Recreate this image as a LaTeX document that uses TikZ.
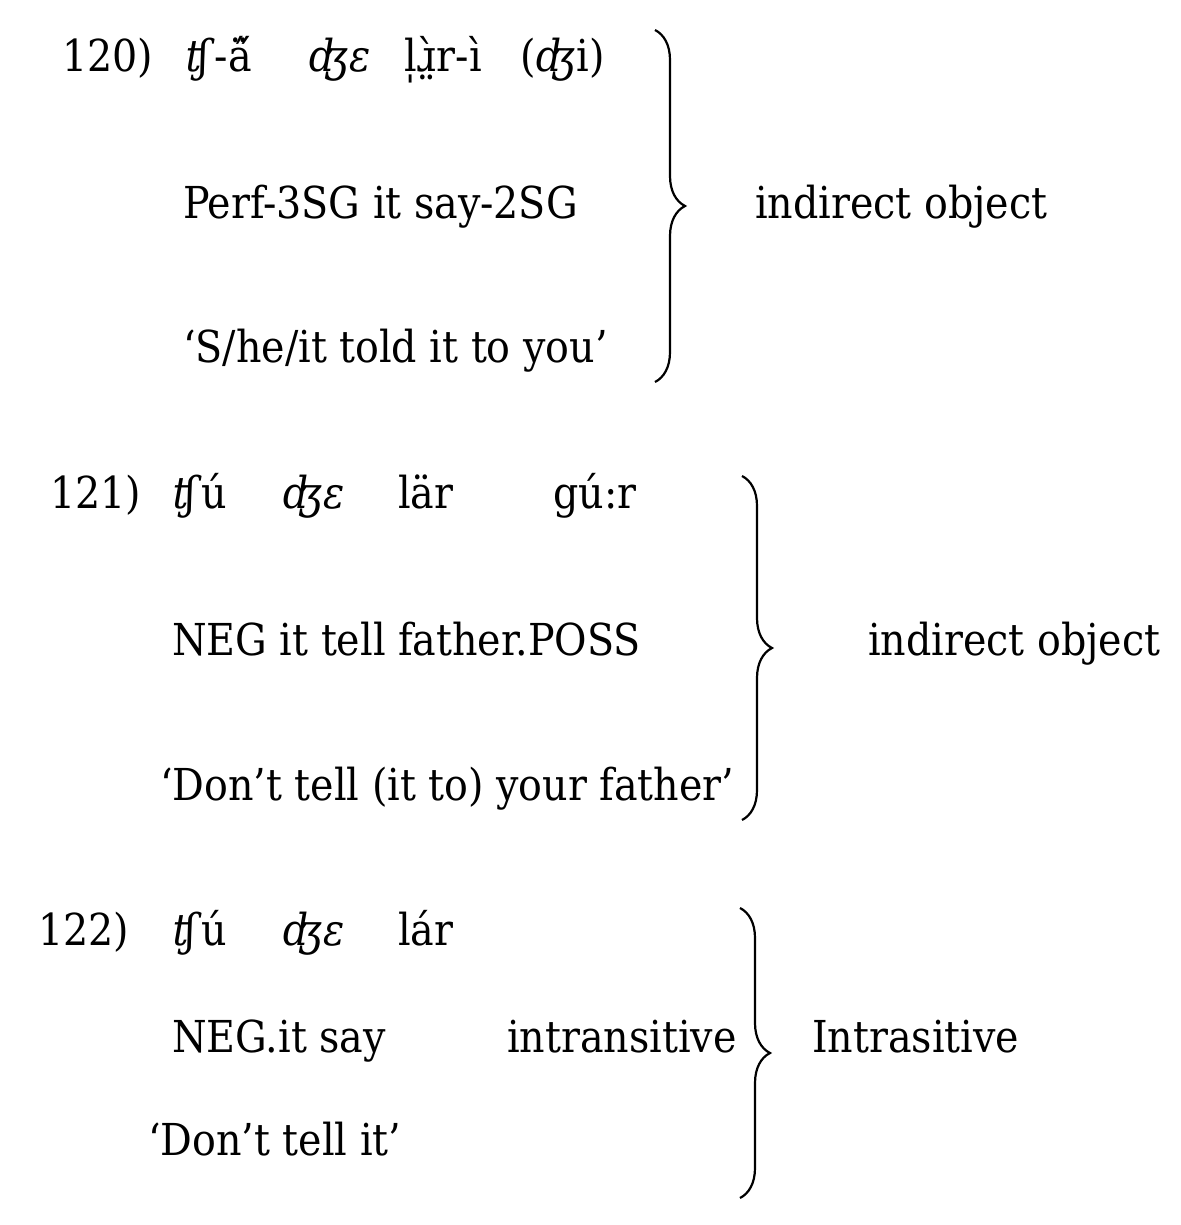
\documentclass[tikz,border=0pt]{standalone}
\usepackage{fontspec}
\setmainfont{DejaVu Serif Condensed}
\usetikzlibrary{decorations.pathreplacing}
\begin{document}
\begin{tikzpicture}[x=1pt,y=-1pt,
  t/.style={anchor=base west,inner sep=0pt,font=\fontsize{44}{48}\selectfont},
  br/.style={draw,line width=2.2pt,decorate,decoration={brace,amplitude=30pt}}]
\useasboundingbox (0,0) rectangle (1180,1225);
\node[t] (n120) at (62,72) {120)};
\node[t] (a1) at (185,72) {\textit{ʧ}-ä̋};
\node[t] (a2) at (308,72) {\textit{ʤɛ}};
\node[t] (a3) at (404,72) {l̩ɹ̤̀r-ì};
\node[t] (a4) at (520,72) {(\textit{ʤ}i)};
\node[t] (b1) at (183,218) {Perf-3SG it say-2SG};
\node[t] (c1) at (183,362) {‘S/he/it told it to you’};
\coordinate (t1) at (655,30); \coordinate (u1) at (655,382);
\draw[br] (t1) -- (u1);
\node[t] (r1) at (755,218) {indirect object};
\node[t] (n121) at (50,508) {121)};
\node[t] (d1) at (172,508) {\textit{ʧ}ú};
\node[t] (d2) at (282,508) {\textit{ʤɛ}};
\node[t] (d3) at (398,508) {lär};
\node[t] (d4) at (553,508) {gú:r};
\node[t] (e1) at (172,655) {NEG it tell father.POSS};
\node[t] (f1) at (160,800) {‘Don’t tell (it to) your father’};
\coordinate (t2) at (742,476); \coordinate (u2) at (742,820);
\draw[br] (t2) -- (u2);
\node[t] (r2) at (868,655) {indirect object};
\node[t] (n122) at (38,945) {122)};
\node[t] (g1) at (172,945) {\textit{ʧ}ú};
\node[t] (g2) at (282,945) {\textit{ʤɛ}};
\node[t] (g3) at (398,945) {lár};
\node[t] (h1) at (172,1052) {NEG.it say};
\node[t] (h2) at (507,1052) {intransitive};
\node[t] (i1) at (148,1155) {‘Don’t tell it’};
\coordinate (t3) at (740,908); \coordinate (u3) at (740,1198);
\draw[br] (t3) -- (u3);
\node[t] (r3) at (812,1052) {Intrasitive};
\end{tikzpicture}
\end{document}
